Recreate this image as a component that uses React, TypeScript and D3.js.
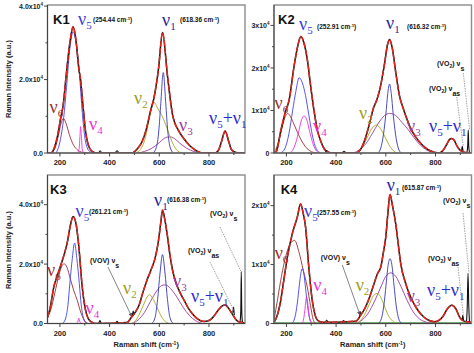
import { useEffect, useRef } from 'react'
import * as d3 from 'd3'

type Pt = [number, number]

const W = 474
const H = 353

// shared Raman shift axis (cm-1)
const shiftRange: [number, number] = [150, 945]
const xMajor = [200, 400, 600, 800]
const xMinor = [300, 500, 700, 900]

// ---------- K1 (intensity in units of 1e4) ----------
const k1Fit: Pt[] = [[150, 0], [165, 0], [175, 0.1], [190, 0.45], [203, 0.95], [213, 1.3], [225, 2.1], [240, 3.0], [253, 3.44], [265, 3.05], [276, 2.3], [283, 2.0], [292, 1.35], [303, 0.6], [318, 0.15], [335, 0.02], [350, 0], [490, 0], [510, 0.1], [530, 0.3], [547, 0.63], [565, 1.15], [577, 1.45], [597, 2.3], [613, 3.28], [633, 2.1], [653, 1.06], [680, 0.58], [700, 0.38], [720, 0.22], [745, 0.08], [775, 0], [825, 0], [840, 0.1], [852, 0.35], [865, 0.6], [878, 0.35], [890, 0.1], [905, 0.02], [920, 0], [945, 0]]
const k1Spikes: Pt[][] = [[[356, 0], [362, 0.06], [368, 0]], [[423, 0], [430, 0.06], [437, 0]]]
const k1Nu6: Pt[] = [[160, 0], [178, 0.1], [193, 0.45], [205, 0.82], [214, 0.94], [225, 0.8], [238, 0.5], [252, 0.25], [268, 0.1], [290, 0.02], [320, 0]]
const k1Nu5: Pt[] = [[185, 0], [200, 0.3], [215, 0.95], [228, 1.9], [240, 2.85], [254, 3.3], [266, 2.95], [278, 2.2], [290, 1.1], [302, 0.35], [318, 0.05], [335, 0]]
const k1Nu4: Pt[] = [[270, 0], [277, 0.1], [281, 0.5], [283, 0.72], [286, 0.5], [290, 0.1], [296, 0]]
const k1Nu2: Pt[] = [[505, 0], [525, 0.1], [545, 0.45], [560, 0.95], [576, 1.4], [595, 1.2], [615, 0.95], [635, 0.6], [655, 0.25], [675, 0.05], [695, 0]]
const k1Nu1: Pt[] = [[575, 0], [588, 0.15], [598, 0.6], [606, 1.35], [616, 2.19], [626, 1.35], [634, 0.6], [644, 0.15], [657, 0]]
const k1Nu3: Pt[] = [[510, 0], [540, 0.04], [570, 0.13], [600, 0.28], [620, 0.4], [640, 0.44], [660, 0.4], [680, 0.28], [710, 0.13], [740, 0.04], [770, 0]]
const k1YMajor = [0, 2, 4]
const k1YLabels = ['0.0', '2.0x10', '4.0x10']
const k1YMinor = [1, 3]

// ---------- K2 ----------
const k2Fit: Pt[] = [[150, 0], [158, 0.02], [178, 0.54], [195, 0.95], [211, 1.25], [231, 2.05], [245, 2.5], [258, 2.74], [270, 2.6], [284, 2.2], [297, 1.6], [311, 1.0], [324, 0.55], [338, 0.28], [352, 0.1], [368, 0.02], [385, 0], [480, 0], [498, 0.08], [515, 0.3], [535, 0.7], [550, 1.05], [564, 1.25], [578, 1.55], [595, 2.1], [607, 2.55], [615, 2.67], [625, 2.5], [640, 1.9], [655, 1.35], [670, 1.05], [685, 0.8], [700, 0.58], [720, 0.38], [745, 0.2], [770, 0.08], [795, 0.02], [815, 0], [830, 0.06], [845, 0.2], [857, 0.32], [865, 0.34], [875, 0.3], [888, 0.15], [900, 0.06], [915, 0.02], [945, 0]]
const k2Spikes: Pt[][] = [[[357, 0.02], [362, 0.06], [368, 0.01]], [[424, 0], [432, 0.04], [440, 0]], [[905, 0.05], [908, 0.16], [911, 0.04]], [[927, 0.02], [930, 0.2], [932, 0.54], [934, 0.15], [937, 0.01]]]
const k2Nu6: Pt[] = [[150, 0.02], [160, 0.12], [172, 0.35], [185, 0.65], [195, 0.85], [205, 0.93], [217, 0.85], [230, 0.68], [245, 0.48], [258, 0.32], [275, 0.16], [292, 0.06], [311, 0.01], [325, 0]]
const k2Nu5: Pt[] = [[178, 0], [195, 0.12], [210, 0.45], [225, 1.0], [238, 1.45], [251, 1.77], [264, 1.65], [277, 1.35], [290, 0.9], [305, 0.4], [320, 0.1], [338, 0]]
const k2Nu4: Pt[] = [[210, 0], [225, 0.06], [238, 0.25], [250, 0.52], [261, 0.78], [271, 0.87], [282, 0.78], [293, 0.52], [305, 0.25], [318, 0.07], [335, 0]]
const k2Nu2: Pt[] = [[478, 0], [495, 0.06], [512, 0.2], [528, 0.4], [545, 0.58], [562, 0.66], [578, 0.58], [595, 0.4], [612, 0.2], [628, 0.07], [645, 0]]
const k2Nu1: Pt[] = [[568, 0], [580, 0.12], [591, 0.45], [600, 0.9], [608, 1.4], [615, 1.62], [622, 1.4], [630, 0.9], [639, 0.45], [650, 0.12], [662, 0]]
const k2Nu3: Pt[] = [[470, 0], [495, 0.08], [520, 0.22], [545, 0.45], [570, 0.7], [595, 0.88], [615, 0.93], [640, 0.88], [665, 0.72], [690, 0.55], [715, 0.35], [740, 0.18], [765, 0.07], [790, 0.01], [800, 0]]
const k2YMajor = [0, 1, 2, 3]
const k2YLabels = ['0', '1x10', '2x10', '3x10']
const k2YMinor = [0.5, 1.5, 2.5]

// ---------- K3 ----------
const k3Fit: Pt[] = [[150, 0.2], [160, 0.5], [176, 1.25], [189, 1.6], [205, 2.0], [218, 2.35], [229, 2.7], [242, 3.3], [253, 3.6], [265, 3.35], [276, 2.6], [289, 1.3], [303, 0.46], [323, 0.07], [345, 0], [470, 0.03], [487, 0.2], [505, 0.4], [520, 0.65], [533, 1.02], [550, 1.45], [567, 1.81], [583, 2.2], [596, 2.75], [606, 3.4], [613, 3.81], [620, 3.6], [633, 2.93], [643, 2.3], [653, 1.81], [668, 1.35], [683, 1.05], [700, 0.78], [718, 0.5], [733, 0.33], [755, 0.15], [780, 0.07], [800, 0.1], [820, 0.25], [840, 0.48], [855, 0.6], [865, 0.62], [878, 0.52], [893, 0.33], [910, 0.12], [925, 0.04], [945, 0.02]]
const k3Spikes: Pt[][] = [[[356, 0], [361, 0.1], [366, 0]], [[425, 0], [430, 0.07], [436, 0]], [[492, 0.28], [495, 0.42], [498, 0.3]], [[896, 0.36], [899, 0.55], [902, 0.28]], [[925, 0.04], [928, 0.4], [930, 1.75], [932, 0.4], [935, 0.03]]]
const k3Nu6: Pt[] = [[150, 0.2], [163, 0.46], [180, 1.05], [195, 1.6], [206, 1.9], [216, 2.01], [228, 1.9], [242, 1.5], [256, 1.1], [269, 0.8], [285, 0.35], [303, 0.05], [315, 0]]
const k3Nu5: Pt[] = [[210, 0], [222, 0.15], [232, 0.6], [240, 1.35], [250, 2.2], [259, 2.71], [268, 2.2], [278, 1.35], [286, 0.6], [296, 0.15], [308, 0]]
const k3Nu4: Pt[] = [[265, 0], [272, 0.06], [276, 0.18], [280, 0.06], [287, 0]]
const k3Nu2: Pt[] = [[490, 0], [505, 0.1], [520, 0.32], [535, 0.6], [548, 0.85], [560, 0.97], [573, 0.85], [588, 0.6], [603, 0.32], [620, 0.1], [640, 0]]
const k3Nu1: Pt[] = [[570, 0], [583, 0.2], [593, 0.8], [603, 1.7], [613, 2.32], [623, 1.7], [633, 0.8], [643, 0.2], [656, 0]]
const k3Nu3: Pt[] = [[490, 0], [515, 0.12], [540, 0.37], [565, 0.75], [590, 1.1], [610, 1.28], [625, 1.3], [645, 1.18], [670, 0.9], [695, 0.56], [720, 0.28], [745, 0.1], [775, 0]]
const k3YMajor = [0, 2, 4]
const k3YLabels = ['0.0', '2.0x10', '4.0x10']
const k3YMinor = [1, 3]

// ---------- K4 ----------
const k4Fit: Pt[] = [[150, 0.02], [160, 0.1], [177, 0.39], [190, 0.75], [204, 1.13], [224, 1.53], [244, 1.81], [257, 2.03], [267, 1.88], [277, 1.64], [290, 0.96], [304, 0.39], [315, 0.15], [324, 0.06], [345, 0.02], [480, 0.04], [500, 0.15], [515, 0.25], [535, 0.45], [553, 0.68], [567, 0.85], [580, 0.96], [590, 1.2], [600, 1.47], [608, 1.85], [617, 2.19], [627, 2.0], [640, 1.69], [650, 1.35], [660, 1.02], [680, 0.68], [700, 0.45], [725, 0.25], [753, 0.11], [775, 0.05], [795, 0.03], [812, 0.05], [830, 0.12], [848, 0.25], [866, 0.31], [882, 0.25], [898, 0.1], [915, 0.04], [945, 0.02]]
const k4Spikes: Pt[][] = [[[357, 0.02], [362, 0.06], [367, 0.02]], [[424, 0.02], [430, 0.05], [436, 0.02]], [[494, 0.12], [497, 0.2], [500, 0.14]], [[907, 0.06], [910, 0.14], [913, 0.05]], [[925, 0.03], [928, 0.3], [931, 0.85], [934, 0.3], [937, 0.02]]]
const k4Nu6: Pt[] = [[150, 0.05], [164, 0.4], [180, 0.8], [198, 1.15], [215, 1.35], [233, 1.41], [250, 1.22], [268, 0.9], [284, 0.62], [297, 0.3], [309, 0.05], [318, 0]]
const k4Nu5: Pt[] = [[222, 0], [234, 0.1], [244, 0.35], [252, 0.65], [258, 0.85], [264, 0.93], [270, 0.85], [277, 0.6], [285, 0.3], [294, 0.08], [305, 0]]
const k4Nu4: Pt[] = [[262, 0], [268, 0.05], [274, 0.22], [278, 0.38], [281, 0.45], [285, 0.38], [290, 0.18], [296, 0.04], [303, 0]]
const k4Nu2: Pt[] = [[480, 0], [498, 0.05], [515, 0.15], [533, 0.32], [550, 0.47], [564, 0.51], [578, 0.46], [594, 0.3], [610, 0.14], [628, 0.04], [645, 0]]
const k4Nu1: Pt[] = [[570, 0], [582, 0.08], [592, 0.3], [601, 0.65], [609, 0.98], [617, 1.1], [625, 0.98], [633, 0.65], [642, 0.3], [652, 0.08], [664, 0]]
const k4Nu3: Pt[] = [[480, 0], [505, 0.06], [530, 0.18], [555, 0.38], [580, 0.62], [600, 0.8], [620, 0.86], [640, 0.8], [662, 0.62], [685, 0.4], [710, 0.2], [735, 0.08], [765, 0.02], [790, 0]]
const k4YMajor = [0, 1, 2]
const k4YLabels = ['0', '1x10', '2x10']
const k4YMinor = [0.5, 1.5]

const C = {
  fit: '#e3241a',
  nu6: '#9a2e2e',
  nu5: '#4343e6',
  nu5Label: '#3a3ad8',
  nu4: '#f030d6',
  nu2: '#a6a620',
  nu2Label: '#9c9c18',
  nu1: '#3737b8',
  nu1Label: '#1e1e9e',
  nu3: '#9a3c9c',
  combo: '#2a2ad0',
  frame: '#8c8c8c',
  lead: '#8a8a8a',
}

type Note =
  | { kind: 'nu'; sub: string; color: string; dx: number; dy: number }
  | { kind: 'combo'; dx: number; dy: number }
  | { kind: 'freq'; text: string; dx: number; dy: number }
  | { kind: 'tag'; head: string; sub2: boolean; nuSub: string; dx: number; dy: number }
  | { kind: 'lead'; x1: number; y1: number; x2: number; y2: number; arrow?: boolean }

const k1Notes: Note[] = [
  { kind: 'nu', sub: '5', color: C.nu5Label, dx: 30.5, dy: 20 },
  { kind: 'freq', text: '254.44', dx: 45.5, dy: 17 },
  { kind: 'nu', sub: '1', color: C.nu1Label, dx: 114.5, dy: 21 },
  { kind: 'freq', text: '618.36', dx: 132.5, dy: 17 },
  { kind: 'nu', sub: '6', color: C.nu6, dx: 2, dy: 108 },
  { kind: 'nu', sub: '4', color: C.nu4, dx: 41.5, dy: 125 },
  { kind: 'nu', sub: '2', color: C.nu2Label, dx: 86.5, dy: 99 },
  { kind: 'nu', sub: '3', color: C.nu3, dx: 131.5, dy: 126 },
  { kind: 'combo', dx: 161.5, dy: 119 },
]
const k2Notes: Note[] = [
  { kind: 'nu', sub: '5', color: C.nu5Label, dx: 25, dy: 25 },
  { kind: 'freq', text: '252.91', dx: 43, dy: 24 },
  { kind: 'nu', sub: '1', color: C.nu1Label, dx: 112, dy: 24 },
  { kind: 'freq', text: '616.32', dx: 133, dy: 24 },
  { kind: 'nu', sub: '6', color: C.nu6, dx: 0.5, dy: 104 },
  { kind: 'nu', sub: '4', color: C.nu4, dx: 39, dy: 127 },
  { kind: 'nu', sub: '2', color: C.nu2Label, dx: 85, dy: 114 },
  { kind: 'nu', sub: '3', color: C.nu3, dx: 133, dy: 127 },
  { kind: 'combo', dx: 155, dy: 127 },
  { kind: 'tag', head: '(VO', sub2: true, nuSub: 's', dx: 163, dy: 61 },
  { kind: 'tag', head: '(VO', sub2: true, nuSub: 'as', dx: 155, dy: 86 },
  { kind: 'lead', x1: 189.3, y1: 68, x2: 195.7, y2: 125 },
  { kind: 'lead', x1: 182.7, y1: 92, x2: 189.3, y2: 141 },
]
const k3Notes: Note[] = [
  { kind: 'nu', sub: '5', color: C.nu5Label, dx: 28, dy: 42 },
  { kind: 'freq', text: '261.21', dx: 41.5, dy: 39 },
  { kind: 'nu', sub: '1', color: C.nu1Label, dx: 106.5, dy: 31 },
  { kind: 'freq', text: '616.38', dx: 119.5, dy: 27 },
  { kind: 'nu', sub: '6', color: C.nu6, dx: -0.5, dy: 101 },
  { kind: 'nu', sub: '4', color: C.nu4, dx: 38, dy: 139 },
  { kind: 'tag', head: '(VOV)', sub2: false, nuSub: 's', dx: 42.5, dy: 88 },
  { kind: 'lead', x1: 60.5, y1: 92, x2: 84.2, y2: 141.5, arrow: true },
  { kind: 'nu', sub: '2', color: C.nu2Label, dx: 75.5, dy: 119 },
  { kind: 'nu', sub: '3', color: C.nu3, dx: 125.5, dy: 112 },
  { kind: 'combo', dx: 143.5, dy: 127 },
  { kind: 'tag', head: '(VO', sub2: true, nuSub: 's', dx: 162.5, dy: 41 },
  { kind: 'tag', head: '(VO', sub2: true, nuSub: 'as', dx: 140.5, dy: 78 },
  { kind: 'lead', x1: 172.5, y1: 52, x2: 194.2, y2: 98 },
  { kind: 'lead', x1: 162.5, y1: 87, x2: 187.5, y2: 138 },
]
const k4Notes: Note[] = [
  { kind: 'nu', sub: '1', color: C.nu1Label, dx: 112.7, dy: 16 },
  { kind: 'freq', text: '615.87', dx: 128, dy: 15 },
  { kind: 'nu', sub: '5', color: C.nu5Label, dx: 30, dy: 42 },
  { kind: 'freq', text: '257.55', dx: 43, dy: 40 },
  { kind: 'nu', sub: '6', color: C.nu6, dx: 0.7, dy: 84 },
  { kind: 'nu', sub: '4', color: C.nu4, dx: 39.3, dy: 116 },
  { kind: 'tag', head: '(VOV)', sub2: false, nuSub: 's', dx: 46.7, dy: 85 },
  { kind: 'lead', x1: 68.3, y1: 90, x2: 86, y2: 140, arrow: true },
  { kind: 'nu', sub: '2', color: C.nu2Label, dx: 81.7, dy: 116 },
  { kind: 'nu', sub: '3', color: C.nu3, dx: 132.7, dy: 127 },
  { kind: 'combo', dx: 153, dy: 121 },
  { kind: 'tag', head: '(VO', sub2: true, nuSub: 's', dx: 169, dy: 28 },
  { kind: 'tag', head: '(VO', sub2: true, nuSub: 'as', dx: 154, dy: 86 },
  { kind: 'lead', x1: 189, y1: 38, x2: 195, y2: 98 },
  { kind: 'lead', x1: 184, y1: 92, x2: 189.3, y2: 140 },
]

const panels = [
  { name: 'K1', left: 47.5, top: 5, bottom: 153, yMax: 4.03, yMajor: k1YMajor, yLabels: k1YLabels, yMinor: k1YMinor, fit: k1Fit, spikes: k1Spikes, nu6: k1Nu6, nu5: k1Nu5, nu4: k1Nu4, nu2: k1Nu2, nu1: k1Nu1, nu3: k1Nu3, notes: k1Notes, baseline: false, kx: 5.5, xTitle: false },
  { name: 'K2', left: 274, top: 5, bottom: 153, yMax: 3.48, yMajor: k2YMajor, yLabels: k2YLabels, yMinor: k2YMinor, fit: k2Fit, spikes: k2Spikes, nu6: k2Nu6, nu5: k2Nu5, nu4: k2Nu4, nu2: k2Nu2, nu1: k2Nu1, nu3: k2Nu3, notes: k2Notes, baseline: false, kx: 4, xTitle: false },
  { name: 'K3', left: 47.5, top: 175, bottom: 323.5, yMax: 5.0, yMajor: k3YMajor, yLabels: k3YLabels, yMinor: k3YMinor, fit: k3Fit, spikes: k3Spikes, nu6: k3Nu6, nu5: k3Nu5, nu4: k3Nu4, nu2: k3Nu2, nu1: k3Nu1, nu3: k3Nu3, notes: k3Notes, baseline: false, kx: 2.5, xTitle: true },
  { name: 'K4', left: 274, top: 175, bottom: 323.5, yMax: 2.52, yMajor: k4YMajor, yLabels: k4YLabels, yMinor: k4YMinor, fit: k4Fit, spikes: k4Spikes, nu6: k4Nu6, nu5: k4Nu5, nu4: k4Nu4, nu2: k4Nu2, nu1: k4Nu1, nu3: k4Nu3, notes: k4Notes, baseline: true, kx: 6.7, xTitle: true },
]

const PANEL_W = 197.5
const SANS = '"Liberation Sans", Arial, sans-serif'
const SERIF = '"Liberation Serif", "Times New Roman", serif'

export default function App() {
  const svgRef = useRef<SVGSVGElement>(null)

  useEffect(() => {
    if (!svgRef.current) return
    const svg = d3.select(svgRef.current)
    svg.selectAll('*').remove()

    svg.append('rect').attr('width', W).attr('height', H).attr('fill', '#fff')

    const defs = svg.append('defs')
    defs.append('marker')
      .attr('id', 'arrow')
      .attr('viewBox', '0 0 10 10')
      .attr('refX', 9).attr('refY', 5)
      .attr('markerWidth', 5).attr('markerHeight', 5)
      .attr('orient', 'auto')
      .append('path')
      .attr('d', 'M0,0 L10,5 L0,10 z')
      .attr('fill', '#555')

    panels.forEach((p, i) => {
      const x = d3.scaleLinear().domain(shiftRange).range([p.left, p.left + PANEL_W])
      const y = d3.scaleLinear().domain([0, p.yMax]).range([p.bottom, p.top])
      const line = d3.line<Pt>().x(d => x(d[0])).y(d => y(d[1])).curve(d3.curveMonotoneX)

      const clipId = `clip-${i}`
      defs.append('clipPath').attr('id', clipId)
        .append('rect')
        .attr('x', p.left).attr('y', p.top)
        .attr('width', PANEL_W).attr('height', p.bottom - p.top)

      const g = svg.append('g')
      const plot = g.append('g').attr('clip-path', `url(#${clipId})`)

      if (p.baseline) {
        plot.append('line')
          .attr('x1', x(shiftRange[0])).attr('x2', x(shiftRange[1]))
          .attr('y1', y(0) - 0.5).attr('y2', y(0) - 0.5)
          .attr('stroke', '#3f9a3f').attr('stroke-width', 1.4)
      }

      // fitted components
      const comps: [Pt[], string][] = [
        [p.nu3, C.nu3], [p.nu2, C.nu2], [p.nu6, C.nu6],
        [p.nu5, C.nu5], [p.nu4, C.nu4], [p.nu1, C.nu1],
      ]
      comps.forEach(([pts, col]) => {
        plot.append('path').attr('d', line(pts)).attr('fill', 'none')
          .attr('stroke', col).attr('stroke-width', 0.9)
      })

      // measured spectrum (black) + cumulative fit (red)
      plot.append('path').attr('d', line(p.fit)).attr('fill', 'none')
        .attr('stroke', '#111').attr('stroke-width', 1.5)
      p.spikes.forEach(s => {
        plot.append('path').attr('d', line(s)).attr('fill', 'none')
          .attr('stroke', '#111').attr('stroke-width', 1.1)
      })
      plot.append('path').attr('d', line(p.fit)).attr('fill', 'none')
        .attr('stroke', C.fit).attr('stroke-width', 1.5)
        .attr('stroke-dasharray', '6,1.5')

      // frame
      g.append('rect')
        .attr('x', p.left).attr('y', p.top)
        .attr('width', PANEL_W).attr('height', p.bottom - p.top)
        .attr('fill', 'none').attr('stroke', C.frame).attr('stroke-width', 1.4)
      g.append('line')
        .attr('x1', p.left).attr('x2', p.left).attr('y1', p.top).attr('y2', p.bottom)
        .attr('stroke', '#444').attr('stroke-width', 1)
      g.append('line')
        .attr('x1', p.left).attr('x2', p.left + PANEL_W).attr('y1', p.bottom).attr('y2', p.bottom)
        .attr('stroke', '#444').attr('stroke-width', 1)

      // x ticks
      xMajor.forEach(v => {
        g.append('line').attr('x1', x(v)).attr('x2', x(v))
          .attr('y1', p.bottom).attr('y2', p.bottom + 3.5).attr('stroke', '#444')
        g.append('text').attr('x', x(v)).attr('y', p.bottom + 12)
          .attr('text-anchor', 'middle').attr('font-family', SANS)
          .attr('font-weight', 'bold').attr('font-size', 7.5).attr('fill', '#222')
          .text(v)
      })
      xMinor.forEach(v => {
        g.append('line').attr('x1', x(v)).attr('x2', x(v))
          .attr('y1', p.bottom).attr('y2', p.bottom + 2).attr('stroke', '#444')
      })

      // y ticks
      p.yMajor.forEach((v, k) => {
        g.append('line').attr('x1', p.left - 3.5).attr('x2', p.left)
          .attr('y1', y(v)).attr('y2', y(v)).attr('stroke', '#444')
        const t = g.append('text').attr('x', p.left - 4.5).attr('y', y(v) + 2.6)
          .attr('text-anchor', 'end').attr('font-family', SANS)
          .attr('font-weight', 'bold').attr('font-size', 7).attr('fill', '#222')
        t.append('tspan').text(p.yLabels[k])
        if (v > 0) t.append('tspan').attr('dy', -3).attr('font-size', 4.5).text('4')
      })
      p.yMinor.forEach(v => {
        g.append('line').attr('x1', p.left - 2).attr('x2', p.left)
          .attr('y1', y(v)).attr('y2', y(v)).attr('stroke', '#444')
      })

      // panel name
      g.append('text').attr('x', p.left + p.kx).attr('y', p.top + 19)
        .attr('font-family', SANS).attr('font-weight', 'bold')
        .attr('font-size', 13).attr('fill', '#111').text(p.name)

      // annotations
      p.notes.forEach(n => {
        if (n.kind === 'lead') {
          const l = g.append('line')
            .attr('x1', p.left + n.x1).attr('y1', p.top + n.y1)
            .attr('x2', p.left + n.x2).attr('y2', p.top + n.y2)
            .attr('stroke', n.arrow ? '#666' : C.lead).attr('stroke-width', 0.8)
          if (n.arrow) l.attr('marker-end', 'url(#arrow)')
          else l.attr('stroke-dasharray', '1.5,1')
          return
        }
        const t = g.append('text').attr('x', p.left + n.dx).attr('y', p.top + n.dy)
        if (n.kind === 'nu') {
          t.attr('font-family', SERIF).attr('fill', n.color)
          t.append('tspan').attr('font-size', 18).text('\u03bd')
          t.append('tspan').attr('font-size', 11).attr('dy', 4).text(n.sub)
        } else if (n.kind === 'combo') {
          t.attr('font-family', SERIF).attr('fill', C.combo)
          t.append('tspan').attr('font-size', 18).text('\u03bd')
          t.append('tspan').attr('font-size', 11).attr('dy', 4).text('5')
          t.append('tspan').attr('font-size', 18).attr('dy', -4).text('+\u03bd')
          t.append('tspan').attr('font-size', 11).attr('dy', 4).text('1')
        } else if (n.kind === 'freq') {
          t.attr('font-family', SANS).attr('font-weight', 'bold')
            .attr('font-size', 6.5).attr('fill', '#111')
          t.append('tspan').text(`(${n.text} cm`)
          t.append('tspan').attr('dy', -2.5).attr('font-size', 4.3).text('-1')
          t.append('tspan').attr('dy', 2.5).text(')')
        } else if (n.kind === 'tag') {
          t.attr('font-family', SANS).attr('font-weight', 'bold')
            .attr('font-size', 7).attr('fill', '#111')
          t.append('tspan').text(n.head)
          if (n.sub2) {
            t.append('tspan').attr('dy', 2).attr('font-size', 5).text('2')
            t.append('tspan').attr('dy', -2).text(') \u03bd')
          } else {
            t.append('tspan').text(' \u03bd')
          }
          t.append('tspan').attr('dy', 4.5).attr('font-size', 7).text(n.nuSub)
        }
      })

      if (p.xTitle) {
        const cx = p.left + PANEL_W / 2
        const t = g.append('text').attr('x', cx).attr('y', 347)
          .attr('text-anchor', 'middle').attr('font-family', SANS)
          .attr('font-weight', 'bold').attr('font-size', 7.5).attr('fill', '#222')
        t.append('tspan').text('Raman shift (cm')
        t.append('tspan').attr('dy', -2.5).attr('font-size', 5).text('-1')
        t.append('tspan').attr('dy', 2.5).text(')')
      }
    })

    // y axis titles
    ;[79, 250].forEach(cy => {
      svg.append('text')
        .attr('transform', `translate(11,${cy}) rotate(-90)`)
        .attr('text-anchor', 'middle').attr('font-family', SANS)
        .attr('font-weight', 'bold').attr('font-size', 7.5).attr('fill', '#222')
        .text('Raman Intensity (a.u.)')
    })
  }, [])

  return (
    <svg
      ref={svgRef}
      width={W}
      height={H}
      style={{ position: 'absolute', left: 0, top: 0, display: 'block' }}
    />
  )
}
